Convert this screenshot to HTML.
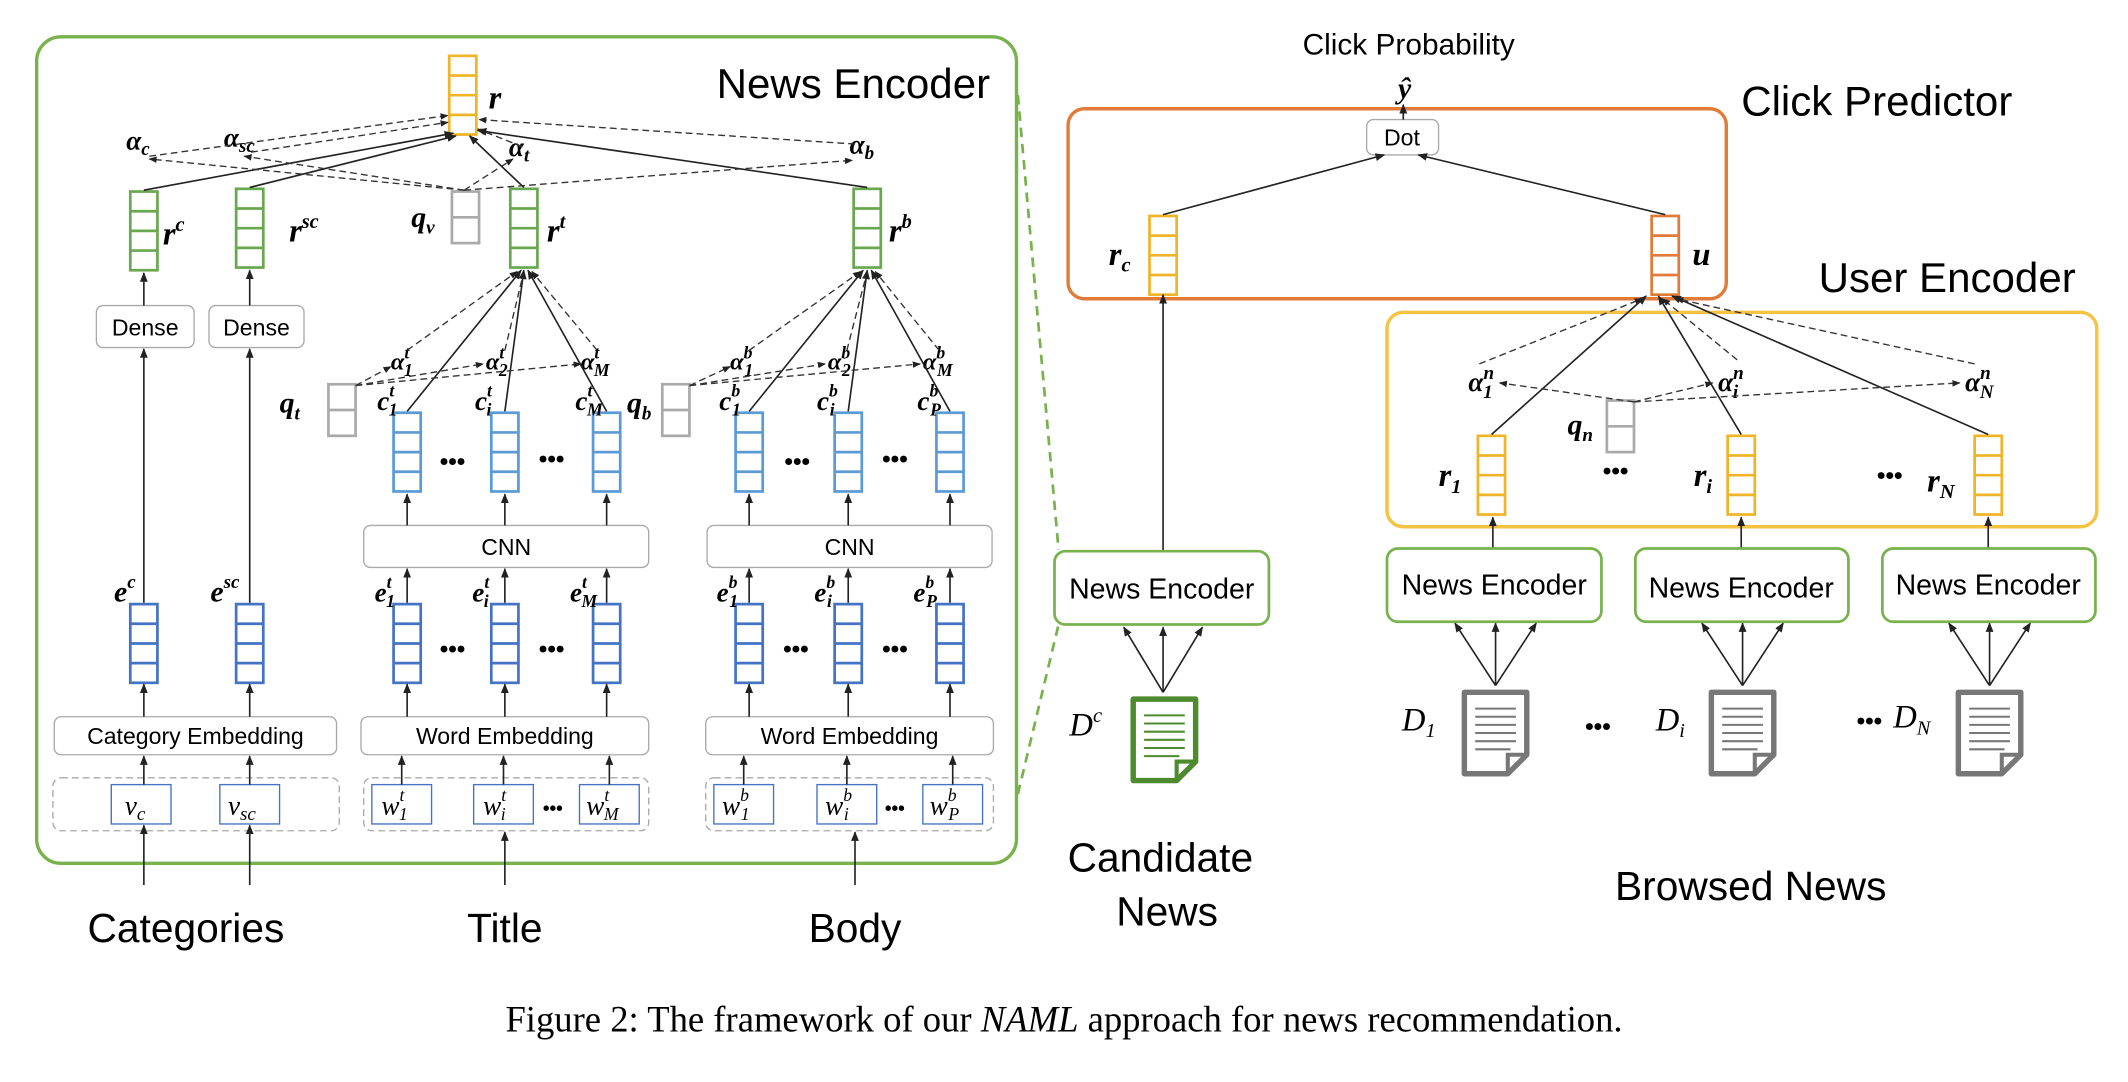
<!DOCTYPE html>
<html><head><meta charset="utf-8"><style>
html,body{margin:0;padding:0;background:#fff;}
svg{display:block;}
text{font-family:"Liberation Sans",sans-serif;}
.m{font-family:"Liberation Serif",serif;font-style:italic;font-weight:bold;}
.mi{font-family:"Liberation Serif",serif;font-style:italic;}
.cap{font-family:"Liberation Serif",serif;}
</style></head><body>
<svg width="2128" height="1082" viewBox="0 0 1568 797" xmlns="http://www.w3.org/2000/svg">
<defs>
<marker id="a" viewBox="0 0 10 10" refX="9" refY="5" markerWidth="6" markerHeight="6" orient="auto-start-reverse"><path d="M0,1 L10,5 L0,9 z" fill="#222"/></marker>
<symbol id="v" viewBox="0 0 22 60" width="22" height="60" overflow="visible">
<rect x="1" y="1" width="20" height="58" fill="#fff" stroke="currentColor" stroke-width="2"/>
<line x1="1" y1="15.5" x2="21" y2="15.5" stroke="currentColor" stroke-width="2"/>
<line x1="1" y1="30" x2="21" y2="30" stroke="currentColor" stroke-width="2"/>
<line x1="1" y1="44.5" x2="21" y2="44.5" stroke="currentColor" stroke-width="2"/>
</symbol>
<symbol id="q" viewBox="0 0 22 40" width="22" height="40" overflow="visible">
<rect x="1" y="1" width="20" height="38" fill="#fff" stroke="#aaa" stroke-width="2"/>
<line x1="1" y1="20" x2="21" y2="20" stroke="#aaa" stroke-width="2"/>
</symbol>
<symbol id="doc" viewBox="0 0 50 64" width="50" height="64" overflow="visible">
<path d="M2,2 H48 V48 L34,62 H2 Z" fill="#fff" stroke="currentColor" stroke-width="4" stroke-linejoin="round"/>
<path d="M48,48 H34 V62" fill="none" stroke="currentColor" stroke-width="3"/>
<g stroke="currentColor" stroke-width="1.5"><line x1="10" y1="14" x2="40" y2="14"/><line x1="10" y1="20" x2="40" y2="20"/><line x1="10" y1="26" x2="40" y2="26"/><line x1="10" y1="32" x2="40" y2="32"/><line x1="10" y1="38" x2="40" y2="38"/><line x1="10" y1="44" x2="36" y2="44"/></g>
</symbol>
</defs>

<rect x="27" y="27" width="722" height="609" rx="18" fill="none" stroke="#78b24c" stroke-width="2.5"/>
<text x="528" y="72" font-size="31">News Encoder</text>
<line x1="750" y1="70" x2="780" y2="405" stroke="#78b24c" stroke-width="2" stroke-dasharray="7,5"/>
<line x1="750" y1="585" x2="780" y2="460" stroke="#78b24c" stroke-width="2" stroke-dasharray="7,5"/>

<use href="#v" x="330" y="40" style="color:#f0b429"/>
<text x="360" y="80" class="m" font-size="24">r</text>
<use href="#v" x="95" y="140" style="color:#6aa84f"/>
<use href="#v" x="173" y="138" style="color:#6aa84f"/>
<use href="#v" x="375" y="138" style="color:#6aa84f"/>
<use href="#v" x="628" y="138" style="color:#6aa84f"/>
<use href="#q" x="332" y="140"/>
<text x="120" y="180" class="m" font-size="24">r<tspan font-size="15" dy="-10">c</tspan></text>
<text x="213" y="178" class="m" font-size="24">r<tspan font-size="15" dy="-10">sc</tspan></text>
<text x="403" y="178" class="m" font-size="24">r<tspan font-size="15" dy="-10">t</tspan></text>
<text x="655" y="178" class="m" font-size="24">r<tspan font-size="15" dy="-10">b</tspan></text>
<text x="303" y="167" class="m" font-size="22">q<tspan font-size="14" dy="5">v</tspan></text>

<text x="93" y="110" class="m" font-size="20">α<tspan font-size="14" dy="4">c</tspan></text>
<text x="165" y="108" class="m" font-size="20">α<tspan font-size="14" dy="4">sc</tspan></text>
<text x="375" y="115" class="m" font-size="20">α<tspan font-size="14" dy="4">t</tspan></text>
<text x="626" y="113" class="m" font-size="20">α<tspan font-size="14" dy="4">b</tspan></text>

<g stroke="#222" stroke-width="1.2" fill="none" marker-end="url(#a)">
<line x1="106" y1="140" x2="334" y2="98"/>
<line x1="184" y1="138" x2="336" y2="100"/>
<line x1="386" y1="138" x2="346" y2="100"/>
<line x1="639" y1="138" x2="352" y2="96"/>
</g>
<g stroke="#333" stroke-width="1" fill="none" stroke-dasharray="5,3" marker-end="url(#a)">
<line x1="342" y1="140" x2="110" y2="117"/>
<line x1="342" y1="140" x2="180" y2="115"/>
<line x1="342" y1="140" x2="378" y2="117"/>
<line x1="342" y1="140" x2="628" y2="118"/>
<line x1="110" y1="115" x2="330" y2="85"/>
<line x1="185" y1="112" x2="330" y2="90"/>
<line x1="385" y1="108" x2="352" y2="95"/>
<line x1="630" y1="106" x2="353" y2="88"/>
</g>

<rect x="71" y="225" width="72" height="31" rx="5" fill="#fff" stroke="#aaa"/>
<text x="107" y="247" font-size="17" text-anchor="middle">Dense</text>
<rect x="154" y="225" width="70" height="31" rx="5" fill="#fff" stroke="#aaa"/>
<text x="189" y="247" font-size="17" text-anchor="middle">Dense</text>

<use href="#q" x="241" y="282"/>
<text x="206" y="304" class="m" font-size="22">q<tspan font-size="14" dy="5">t</tspan></text>
<use href="#v" x="289" y="303" style="color:#5b9bd5"/>
<use href="#v" x="361" y="303" style="color:#5b9bd5"/>
<use href="#v" x="436" y="303" style="color:#5b9bd5"/>
<text x="278" y="302" class="m" font-size="20">c<tspan font-size="13" dy="-10">t</tspan><tspan font-size="13" dx="-4" dy="14">1</tspan></text>
<text x="350" y="302" class="m" font-size="20">c<tspan font-size="13" dy="-10">t</tspan><tspan font-size="13" dx="-4" dy="14">i</tspan></text>
<text x="424" y="302" class="m" font-size="20">c<tspan font-size="13" dy="-10">t</tspan><tspan font-size="13" dx="-4" dy="14">M</tspan></text>
<text x="288" y="272" class="m" font-size="18">α<tspan font-size="13" dy="-8">t</tspan><tspan font-size="13" dx="-4" dy="13">1</tspan></text>
<text x="358" y="272" class="m" font-size="18">α<tspan font-size="13" dy="-8">t</tspan><tspan font-size="13" dx="-4" dy="13">2</tspan></text>
<text x="428" y="272" class="m" font-size="18">α<tspan font-size="13" dy="-8">t</tspan><tspan font-size="13" dx="-4" dy="13">M</tspan></text>
<text x="324" y="346" font-size="18" font-weight="bold">•••</text>
<text x="397" y="344" font-size="18" font-weight="bold">•••</text>
<rect x="268" y="387" width="210" height="31" rx="5" fill="#fff" stroke="#aaa"/>
<text x="373" y="409" font-size="17" text-anchor="middle">CNN</text>
<use href="#v" x="289" y="444" style="color:#4472c4"/>
<use href="#v" x="361" y="444" style="color:#4472c4"/>
<use href="#v" x="436" y="444" style="color:#4472c4"/>
<text x="276" y="443" class="m" font-size="20">e<tspan font-size="13" dy="-10">t</tspan><tspan font-size="13" dx="-4" dy="14">1</tspan></text>
<text x="348" y="443" class="m" font-size="20">e<tspan font-size="13" dy="-10">t</tspan><tspan font-size="13" dx="-4" dy="14">i</tspan></text>
<text x="420" y="443" class="m" font-size="20">e<tspan font-size="13" dy="-10">t</tspan><tspan font-size="13" dx="-4" dy="14">M</tspan></text>
<text x="324" y="484" font-size="18" font-weight="bold">•••</text>
<text x="397" y="484" font-size="18" font-weight="bold">•••</text>
<rect x="266" y="528" width="212" height="28" rx="5" fill="#fff" stroke="#aaa"/>
<text x="372" y="548" font-size="17" text-anchor="middle">Word Embedding</text>
<rect x="268" y="573" width="210" height="39" rx="6" fill="none" stroke="#aaa" stroke-dasharray="5,3"/>
<rect x="274" y="578" width="44" height="29" fill="#fff" stroke="#4472c4"/>
<rect x="349" y="578" width="44" height="29" fill="#fff" stroke="#4472c4"/>
<rect x="427" y="578" width="44" height="29" fill="#fff" stroke="#4472c4"/>
<text x="281" y="600" class="mi" font-size="20">w<tspan font-size="13" dy="-10">t</tspan><tspan font-size="13" dx="-4" dy="14">1</tspan></text>
<text x="356" y="600" class="mi" font-size="20">w<tspan font-size="13" dy="-10">t</tspan><tspan font-size="13" dx="-4" dy="14">i</tspan></text>
<text x="432" y="600" class="mi" font-size="20">w<tspan font-size="13" dy="-10">t</tspan><tspan font-size="13" dx="-4" dy="14">M</tspan></text>
<text x="400" y="600" font-size="14" font-weight="bold">•••</text>

<use href="#q" x="487" y="282"/>
<text x="462" y="304" class="m" font-size="22">q<tspan font-size="14" dy="5">b</tspan></text>
<use href="#v" x="541" y="303" style="color:#5b9bd5"/>
<use href="#v" x="614" y="303" style="color:#5b9bd5"/>
<use href="#v" x="689" y="303" style="color:#5b9bd5"/>
<text x="530" y="302" class="m" font-size="20">c<tspan font-size="13" dy="-10">b</tspan><tspan font-size="13" dx="-6" dy="14">1</tspan></text>
<text x="602" y="302" class="m" font-size="20">c<tspan font-size="13" dy="-10">b</tspan><tspan font-size="13" dx="-6" dy="14">i</tspan></text>
<text x="676" y="302" class="m" font-size="20">c<tspan font-size="13" dy="-10">b</tspan><tspan font-size="13" dx="-6" dy="14">P</tspan></text>
<text x="538" y="272" class="m" font-size="18">α<tspan font-size="13" dy="-8">b</tspan><tspan font-size="13" dx="-6" dy="13">1</tspan></text>
<text x="610" y="272" class="m" font-size="18">α<tspan font-size="13" dy="-8">b</tspan><tspan font-size="13" dx="-6" dy="13">2</tspan></text>
<text x="680" y="272" class="m" font-size="18">α<tspan font-size="13" dy="-8">b</tspan><tspan font-size="13" dx="-6" dy="13">M</tspan></text>
<text x="578" y="346" font-size="18" font-weight="bold">•••</text>
<text x="650" y="344" font-size="18" font-weight="bold">•••</text>
<rect x="521" y="387" width="210" height="31" rx="5" fill="#fff" stroke="#aaa"/>
<text x="626" y="409" font-size="17" text-anchor="middle">CNN</text>
<use href="#v" x="541" y="444" style="color:#4472c4"/>
<use href="#v" x="614" y="444" style="color:#4472c4"/>
<use href="#v" x="689" y="444" style="color:#4472c4"/>
<text x="528" y="443" class="m" font-size="20">e<tspan font-size="13" dy="-10">b</tspan><tspan font-size="13" dx="-6" dy="14">1</tspan></text>
<text x="600" y="443" class="m" font-size="20">e<tspan font-size="13" dy="-10">b</tspan><tspan font-size="13" dx="-6" dy="14">i</tspan></text>
<text x="673" y="443" class="m" font-size="20">e<tspan font-size="13" dy="-10">b</tspan><tspan font-size="13" dx="-6" dy="14">P</tspan></text>
<text x="577" y="484" font-size="18" font-weight="bold">•••</text>
<text x="650" y="484" font-size="18" font-weight="bold">•••</text>
<rect x="520" y="528" width="212" height="28" rx="5" fill="#fff" stroke="#aaa"/>
<text x="626" y="548" font-size="17" text-anchor="middle">Word Embedding</text>
<rect x="520" y="573" width="212" height="39" rx="6" fill="none" stroke="#aaa" stroke-dasharray="5,3"/>
<rect x="526" y="578" width="44" height="29" fill="#fff" stroke="#4472c4"/>
<rect x="602" y="578" width="44" height="29" fill="#fff" stroke="#4472c4"/>
<rect x="680" y="578" width="44" height="29" fill="#fff" stroke="#4472c4"/>
<text x="532" y="600" class="mi" font-size="20">w<tspan font-size="13" dy="-10">b</tspan><tspan font-size="13" dx="-6" dy="14">1</tspan></text>
<text x="608" y="600" class="mi" font-size="20">w<tspan font-size="13" dy="-10">b</tspan><tspan font-size="13" dx="-6" dy="14">i</tspan></text>
<text x="685" y="600" class="mi" font-size="20">w<tspan font-size="13" dy="-10">b</tspan><tspan font-size="13" dx="-6" dy="14">P</tspan></text>
<text x="652" y="600" font-size="14" font-weight="bold">•••</text>

<use href="#v" x="95" y="444" style="color:#4472c4"/>
<use href="#v" x="173" y="444" style="color:#4472c4"/>
<text x="84" y="443" class="m" font-size="22">e<tspan font-size="14" dy="-10">c</tspan></text>
<text x="155" y="443" class="m" font-size="22">e<tspan font-size="14" dy="-10">sc</tspan></text>
<rect x="40" y="528" width="208" height="28" rx="5" fill="#fff" stroke="#aaa"/>
<text x="144" y="548" font-size="17" text-anchor="middle">Category Embedding</text>
<rect x="39" y="573" width="211" height="39" rx="6" fill="none" stroke="#aaa" stroke-dasharray="5,3"/>
<rect x="82" y="578" width="44" height="29" fill="#fff" stroke="#4472c4"/>
<rect x="162" y="578" width="44" height="29" fill="#fff" stroke="#4472c4"/>
<text x="92" y="600" class="mi" font-size="20">v<tspan font-size="14" dy="4">c</tspan></text>
<text x="168" y="600" class="mi" font-size="20">v<tspan font-size="14" dy="4">sc</tspan></text>

<g stroke="#222" stroke-width="1.2" fill="none" marker-end="url(#a)">
<line x1="106" y1="225" x2="106" y2="201"/><line x1="184" y1="225" x2="184" y2="199"/>
<line x1="106" y1="444" x2="106" y2="257"/><line x1="184" y1="444" x2="184" y2="257"/>
<line x1="106" y1="528" x2="106" y2="504"/><line x1="184" y1="528" x2="184" y2="504"/>
<line x1="106" y1="578" x2="106" y2="557"/><line x1="184" y1="578" x2="184" y2="557"/>
<line x1="106" y1="652" x2="106" y2="608"/><line x1="184" y1="652" x2="184" y2="608"/>
<line x1="300" y1="303" x2="384" y2="199"/><line x1="372" y1="303" x2="386" y2="199"/><line x1="447" y1="303" x2="389" y2="199"/>
<line x1="552" y1="303" x2="636" y2="199"/><line x1="625" y1="303" x2="639" y2="199"/><line x1="700" y1="303" x2="642" y2="199"/>
<line x1="300" y1="387" x2="300" y2="364"/><line x1="372" y1="387" x2="372" y2="364"/><line x1="447" y1="387" x2="447" y2="364"/>
<line x1="552" y1="387" x2="552" y2="364"/><line x1="625" y1="387" x2="625" y2="364"/><line x1="700" y1="387" x2="700" y2="364"/>
<line x1="300" y1="444" x2="300" y2="419"/><line x1="372" y1="444" x2="372" y2="419"/><line x1="447" y1="444" x2="447" y2="419"/>
<line x1="552" y1="444" x2="552" y2="419"/><line x1="625" y1="444" x2="625" y2="419"/><line x1="700" y1="444" x2="700" y2="419"/>
<line x1="300" y1="528" x2="300" y2="504"/><line x1="372" y1="528" x2="372" y2="504"/><line x1="447" y1="528" x2="447" y2="504"/>
<line x1="552" y1="528" x2="552" y2="504"/><line x1="625" y1="528" x2="625" y2="504"/><line x1="700" y1="528" x2="700" y2="504"/>
<line x1="296" y1="578" x2="296" y2="557"/><line x1="371" y1="578" x2="371" y2="557"/><line x1="449" y1="578" x2="449" y2="557"/>
<line x1="548" y1="578" x2="548" y2="557"/><line x1="624" y1="578" x2="624" y2="557"/><line x1="702" y1="578" x2="702" y2="557"/>
<line x1="372" y1="652" x2="372" y2="613"/><line x1="630" y1="652" x2="630" y2="613"/>
</g>
<g stroke="#333" stroke-width="1" fill="none" stroke-dasharray="5,3" marker-end="url(#a)">
<line x1="262" y1="284" x2="288" y2="270"/><line x1="262" y1="284" x2="356" y2="268"/><line x1="262" y1="284" x2="428" y2="268"/>
<line x1="300" y1="258" x2="381" y2="200"/><line x1="372" y1="258" x2="386" y2="200"/><line x1="440" y1="258" x2="392" y2="200"/>
<line x1="508" y1="284" x2="538" y2="270"/><line x1="508" y1="284" x2="608" y2="268"/><line x1="508" y1="284" x2="678" y2="268"/>
<line x1="552" y1="258" x2="634" y2="200"/><line x1="624" y1="258" x2="639" y2="200"/><line x1="692" y1="258" x2="645" y2="200"/>
</g>

<text x="137" y="694" font-size="30" text-anchor="middle">Categories</text>
<text x="372" y="694" font-size="30" text-anchor="middle">Title</text>
<text x="630" y="694" font-size="30" text-anchor="middle">Body</text>

<text x="1038" y="40" font-size="22" text-anchor="middle">Click Probability</text>
<text x="1035" y="72" class="m" font-size="22" text-anchor="middle">ŷ</text>
<rect x="787" y="80" width="485" height="140" rx="12" fill="none" stroke="#e07b39" stroke-width="2.5"/>
<text x="1283" y="85" font-size="31">Click Predictor</text>
<rect x="1007" y="88" width="53" height="26" rx="5" fill="#fff" stroke="#aaa"/>
<text x="1033" y="107" font-size="17" text-anchor="middle">Dot</text>
<use href="#v" x="846" y="158" style="color:#f0b429"/>
<use href="#v" x="1216" y="158" style="color:#e07b39"/>
<text x="817" y="195" class="m" font-size="24">r<tspan font-size="15" dy="5">c</tspan></text>
<text x="1247" y="195" class="m" font-size="24">u</text>

<rect x="1022" y="230" width="523" height="158" rx="12" fill="none" stroke="#f5c242" stroke-width="2.5"/>
<text x="1340" y="215" font-size="31">User Encoder</text>
<use href="#q" x="1183" y="294"/>
<text x="1155" y="320" class="m" font-size="22">q<tspan font-size="14" dy="5">n</tspan></text>
<use href="#v" x="1088" y="320" style="color:#f0b429"/>
<use href="#v" x="1272" y="320" style="color:#f0b429"/>
<use href="#v" x="1454" y="320" style="color:#f0b429"/>
<text x="1060" y="358" class="m" font-size="24">r<tspan font-size="15" dy="5">1</tspan></text>
<text x="1248" y="358" class="m" font-size="24">r<tspan font-size="15" dy="5">i</tspan></text>
<text x="1420" y="362" class="m" font-size="24">r<tspan font-size="15" dy="5">N</tspan></text>
<text x="1181" y="353" font-size="18" font-weight="bold">•••</text>
<text x="1383" y="356" font-size="18" font-weight="bold">•••</text>
<text x="1082" y="288" class="m" font-size="20">α<tspan font-size="14" dy="-9">n</tspan><tspan font-size="14" dx="-8" dy="14">1</tspan></text>
<text x="1266" y="288" class="m" font-size="20">α<tspan font-size="14" dy="-9">n</tspan><tspan font-size="14" dx="-8" dy="14">i</tspan></text>
<text x="1448" y="288" class="m" font-size="20">α<tspan font-size="14" dy="-9">n</tspan><tspan font-size="14" dx="-8" dy="14">N</tspan></text>

<g stroke="#222" stroke-width="1.2" fill="none" marker-end="url(#a)">
<line x1="857" y1="158" x2="1020" y2="114"/>
<line x1="1227" y1="158" x2="1045" y2="114"/>
<line x1="1034" y1="88" x2="1034" y2="77"/>
<line x1="857" y1="406" x2="857" y2="217"/>
<line x1="1099" y1="320" x2="1213" y2="218"/>
<line x1="1283" y1="320" x2="1222" y2="218"/>
<line x1="1465" y1="320" x2="1232" y2="218"/>
<line x1="1100" y1="404" x2="1100" y2="381"/>
<line x1="1283" y1="404" x2="1283" y2="381"/>
<line x1="1465" y1="404" x2="1465" y2="381"/>
<line x1="857" y1="510" x2="828" y2="462"/><line x1="857" y1="510" x2="857" y2="462"/><line x1="857" y1="510" x2="886" y2="462"/>
<line x1="1102" y1="505" x2="1072" y2="459"/><line x1="1102" y1="505" x2="1102" y2="459"/><line x1="1102" y1="505" x2="1132" y2="459"/>
<line x1="1284" y1="505" x2="1254" y2="459"/><line x1="1284" y1="505" x2="1284" y2="459"/><line x1="1284" y1="505" x2="1314" y2="459"/>
<line x1="1466" y1="505" x2="1436" y2="459"/><line x1="1466" y1="505" x2="1466" y2="459"/><line x1="1466" y1="505" x2="1496" y2="459"/>
</g>
<g stroke="#333" stroke-width="1" fill="none" stroke-dasharray="5,3" marker-end="url(#a)">
<line x1="1204" y1="296" x2="1105" y2="282"/><line x1="1204" y1="296" x2="1262" y2="282"/><line x1="1204" y1="296" x2="1444" y2="282"/>
<line x1="1090" y1="268" x2="1210" y2="220"/><line x1="1280" y1="265" x2="1225" y2="220"/><line x1="1455" y1="268" x2="1235" y2="220"/>
</g>

<rect x="777" y="406" width="158" height="54" rx="8" fill="#fff" stroke="#78b24c" stroke-width="2"/>
<text x="856" y="441" font-size="21" text-anchor="middle">News Encoder</text>
<rect x="1022" y="404" width="158" height="54" rx="8" fill="#fff" stroke="#78b24c" stroke-width="2"/>
<text x="1101" y="438" font-size="21" text-anchor="middle">News Encoder</text>
<rect x="1205" y="404" width="157" height="54" rx="8" fill="#fff" stroke="#78b24c" stroke-width="2"/>
<text x="1283" y="440" font-size="21" text-anchor="middle">News Encoder</text>
<rect x="1387" y="404" width="157" height="54" rx="8" fill="#fff" stroke="#78b24c" stroke-width="2"/>
<text x="1465" y="438" font-size="21" text-anchor="middle">News Encoder</text>

<use href="#doc" x="833" y="513" style="color:#4e8a2e"/>
<use href="#doc" x="1077" y="508" style="color:#777"/>
<use href="#doc" x="1259" y="508" style="color:#777"/>
<use href="#doc" x="1441" y="508" style="color:#777"/>
<text x="788" y="542" class="mi" font-size="24">D<tspan font-size="15" dy="-10">c</tspan></text>
<text x="1033" y="538" class="mi" font-size="24">D<tspan font-size="15" dy="5">1</tspan></text>
<text x="1220" y="538" class="mi" font-size="24">D<tspan font-size="15" dy="5">i</tspan></text>
<text x="1395" y="536" class="mi" font-size="24">D<tspan font-size="15" dy="5">N</tspan></text>
<text x="1168" y="541" font-size="18" font-weight="bold">•••</text>
<text x="1368" y="537" font-size="18" font-weight="bold">•••</text>

<text x="855" y="642" font-size="30" text-anchor="middle">Candidate</text>
<text x="860" y="682" font-size="30" text-anchor="middle">News</text>
<text x="1290" y="663" font-size="30" text-anchor="middle">Browsed News</text>

<text x="784" y="760" class="cap" font-size="27" text-anchor="middle" style="font-family:'Liberation Serif',serif">Figure 2: The framework of our <tspan font-style="italic">NAML</tspan> approach for news recommendation.</text>
</svg>
</body></html>
